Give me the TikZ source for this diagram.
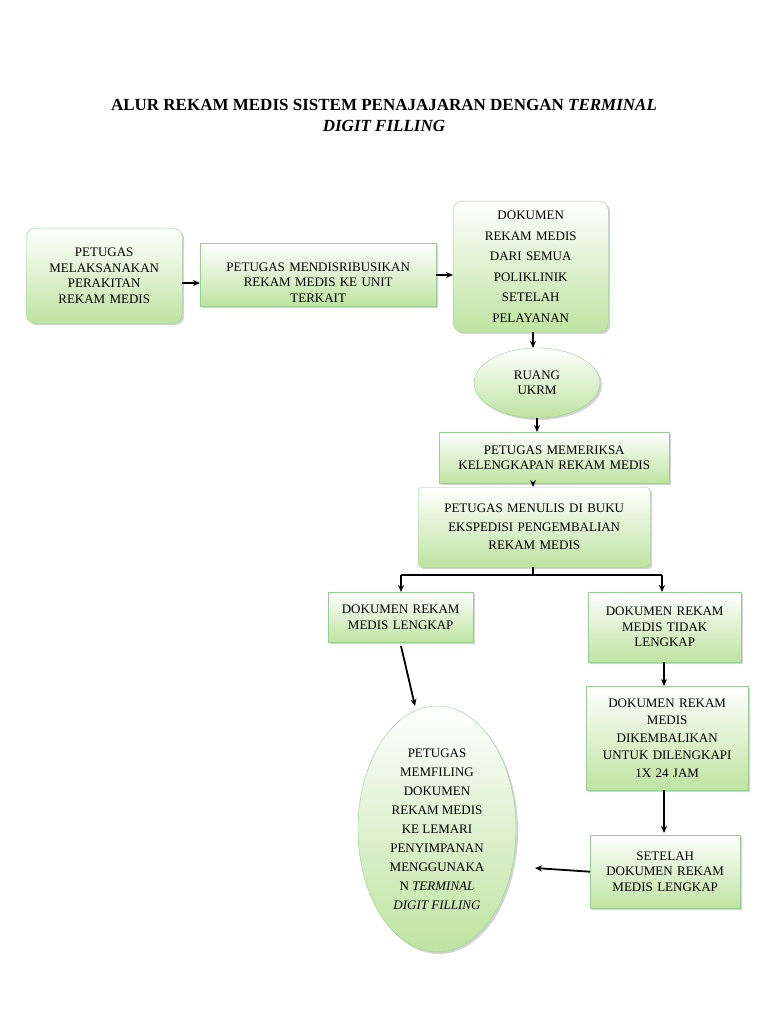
\documentclass[tikz,border=0pt]{standalone}
\usepackage{fontspec}
\setmainfont{Liberation Serif}
\usetikzlibrary{shapes.geometric,shadows,arrows.meta}
\begin{document}
\begin{tikzpicture}[x=1pt,y=-1pt,
  box/.style={draw=green!35!gray!60, top color=white, bottom color={rgb,255:red,190;green,228;blue,160}, drop shadow={shadow xshift=2pt,shadow yshift=-2pt,opacity=0.35}, align=center, font=\fontsize{13}{15.5}\selectfont, inner sep=2pt, anchor=north west},
  rbox/.style={box, rounded corners=9pt},
  ell/.style={ellipse, draw=green!35!gray!60, top color=white, bottom color={rgb,255:red,190;green,228;blue,160}, drop shadow={shadow xshift=2pt,shadow yshift=-2pt,opacity=0.35}, align=center, font=\fontsize{13}{15.5}\selectfont, inner sep=0pt},
  arr/.style={-{Stealth[length=7pt,width=6pt]}, line width=1.8pt}]
\useasboundingbox (0,0) rectangle (768,1024);
\node[font=\bfseries\fontsize{17}{21}\selectfont, align=center] (title) at (384,115) {ALUR REKAM MEDIS SISTEM PENAJAJARAN DENGAN \textit{TERMINAL}\\\textit{DIGIT FILLING}};
\node[rbox, minimum width=156pt, minimum height=95pt, text width=150pt] (b1) at (26,228) {PETUGAS\\MELAKSANAKAN\\PERAKITAN\\REKAM MEDIS};
\node[box, minimum width=236pt, minimum height=63pt, text width=230pt, text depth=16pt] (b2) at (200,243) {PETUGAS MENDISRIBUSIKAN\\REKAM MEDIS KE UNIT\\TERKAIT};
\node[rbox, minimum width=155pt, minimum height=131pt, text width=150pt, font=\fontsize{13}{20.5}\selectfont] (b3) at (453,201) {DOKUMEN\\REKAM MEDIS\\DARI SEMUA\\POLIKLINIK\\SETELAH\\PELAYANAN};
\node[ell, minimum width=126pt, minimum height=70pt] (e1) at (537,383) {RUANG\\UKRM};
\node[box, minimum width=230pt, minimum height=51pt, text width=224pt] (b4) at (439,432) {PETUGAS MEMERIKSA\\KELENGKAPAN REKAM MEDIS};
\node[box, rounded corners=4pt, minimum width=232pt, minimum height=80pt, text width=226pt, font=\fontsize{13}{18.5}\selectfont] (b5) at (418,487) {PETUGAS MENULIS DI BUKU\\EKSPEDISI PENGEMBALIAN\\REKAM MEDIS};
\node[box, minimum width=145pt, minimum height=50pt, text width=140pt] (b6) at (328,592) {DOKUMEN REKAM\\MEDIS LENGKAP};
\node[box, minimum width=153pt, minimum height=70pt, text width=148pt] (b7) at (588,592) {DOKUMEN REKAM\\MEDIS TIDAK\\LENGKAP};
\node[box, minimum width=162pt, minimum height=104pt, text width=156pt, font=\fontsize{13}{17.5}\selectfont] (b8) at (586,686) {DOKUMEN REKAM\\MEDIS\\DIKEMBALIKAN\\UNTUK DILENGKAPI\\1X 24 JAM};
\node[box, minimum width=150pt, minimum height=73pt, text width=144pt] (b9) at (590,835) {SETELAH\\DOKUMEN REKAM\\MEDIS LENGKAP};
\node[ell, minimum width=158pt, minimum height=246pt, font=\fontsize{13}{19}\selectfont] (e2) at (437,829) {PETUGAS\\MEMFILING\\DOKUMEN\\REKAM MEDIS\\KE LEMARI\\PENYIMPANAN\\MENGGUNAKA\\N \textit{TERMINAL}\\\textit{DIGIT FILLING}};
\coordinate (j) at (533,575);
\coordinate (jl) at (401,575);
\coordinate (jr) at (662,575);
\coordinate (r1) at (0,283);
\coordinate (r2) at (0,275);
\draw[arr] (b1.east |- r1) -- (b2.west |- r1);
\draw[arr] (b2.east |- r2) -- (b3.west |- r2);
\draw[arr] (b3.south -| j) -- (e1.north -| j);
\draw[arr] (e1.south) -- (b4.north -| e1.south);
\draw[arr] (b4.south -| j) -- (b5.north -| j);
\draw[line width=1.8pt] (b5.south -| j) -- (j);
\draw[line width=1.8pt] (jl) -- (jr);
\draw[arr] (jl) -- (jl |- b6.north);
\draw[arr] (jr) -- (jr |- b7.north);
\draw[arr] (401,646) -- (415,706);
\draw[arr] (664,662) -- (664,686);
\draw[arr] (664,790) -- (664,833);
\draw[arr] (b9.west) -- (535,868);
\end{tikzpicture}
\end{document}
